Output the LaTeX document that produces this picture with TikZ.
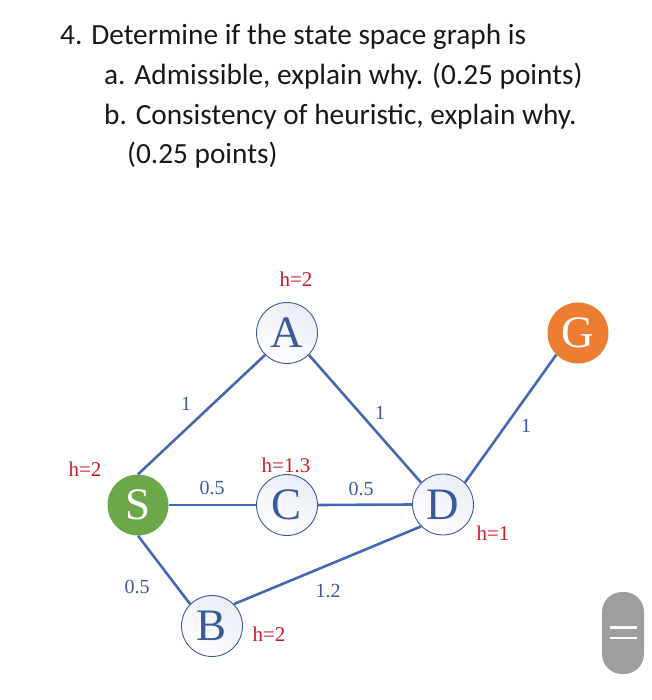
\documentclass[tikz,border=0pt]{standalone}
\usepackage{fontspec}
\setmainfont{Liberation Serif}
\newfontfamily\qfont{Carlito}
\definecolor{edgeblue}{RGB}{68,106,180}
\definecolor{textblue}{RGB}{60,90,155}
\definecolor{hred}{RGB}{205,25,40}
\definecolor{startgreen}{RGB}{106,168,72}
\definecolor{goalorange}{RGB}{237,125,49}
\definecolor{pausegray}{RGB}{158,158,158}
\tikzset{
  state/.style={circle,draw=textblue,line width=0.9pt,minimum size=61pt,inner sep=0pt,
    top color=edgeblue!12,bottom color=white,shading angle=-30,text=textblue,font=\fontsize{45}{45}\selectfont},
  endstate/.style={circle,minimum size=61pt,inner sep=0pt,text=white,font=\fontsize{45}{45}\selectfont},
  hlabel/.style={text=hred,inner sep=0pt,font=\fontsize{21}{21}\selectfont},
  cost/.style={text=textblue,inner sep=0pt,font=\fontsize{20}{20}\selectfont},
  link/.style={edgeblue,line width=2.6pt},
  qline/.style={anchor=base west,inner sep=0pt,text=black!90,font=\qfont\fontsize{29.3}{29.3}\selectfont}
}
\begin{document}
\begin{tikzpicture}[x=1pt,y=-1pt]
  \useasboundingbox (0,0) rectangle (651,700);
  % Question text
  \node[qline] (q1) at (60,44.5) {4. Determine if the state space graph is};
  \node[qline] (q2) at (104,84.5) {a. Admissible, explain why. (0.25 points)};
  \node[qline] (q3) at (104,124.5) {b. Consistency of heuristic, explain why.};
  \node[qline] (q4) at (127,163.5) {(0.25 points)};
  % States
  \node[state] (A) at (287,333) {A};
  \node[endstate,fill=startgreen] (S) at (138,505) {S};
  \node[state] (C) at (287,505) {C};
  \node[state] (B) at (212,626) {B};
  \node[state] (D) at (443,504.5) {D};
  \node[endstate,fill=goalorange] (G) at (578,333) {G};
  % Links
  \draw[link] (S.north)--(A.south west);
  \draw[link] (S.east)--(C.west);
  \draw[link] (S.south)--(B.north west);
  \draw[link] (A.south east)--(D.north west);
  \draw[link] (C.east)--(D.west);
  \draw[link] (B.north east)--(D.south west);
  \draw[link] (D.north east)--(G.south west);
  % Heuristic values
  \node[hlabel] (hA) at (296,279) {h=2};
  \node[hlabel] (hS) at (85,469) {h=2};
  \node[hlabel] (hC) at (286,465) {h=1.3};
  \node[hlabel] (hB) at (269,634) {h=2};
  \node[hlabel] (hD) at (493,533) {h=1};
  % Costs
  \node[cost] (cSA) at (186,404) {1};
  \node[cost] (cAD) at (380,413) {1};
  \node[cost] (cDG) at (526,426) {1};
  \node[cost] (cSC) at (212,488) {0.5};
  \node[cost] (cCD) at (361,489) {0.5};
  \node[cost] (cSB) at (137,587) {0.5};
  \node[cost] (cBD) at (328,591) {1.2};
  % Pause button
  \node[fill=pausegray,rounded corners=20pt,minimum width=42pt,minimum height=82pt,inner sep=0pt] (pause) at (623,633) {};
  \draw[white,line width=2.4pt] ([xshift=-13.5pt,yshift=5.5pt]pause.center) -- ([xshift=13.5pt,yshift=5.5pt]pause.center);
  \draw[white,line width=2.4pt] ([xshift=-13.5pt,yshift=-5pt]pause.center) -- ([xshift=13.5pt,yshift=-5pt]pause.center);
\end{tikzpicture}
\end{document}
